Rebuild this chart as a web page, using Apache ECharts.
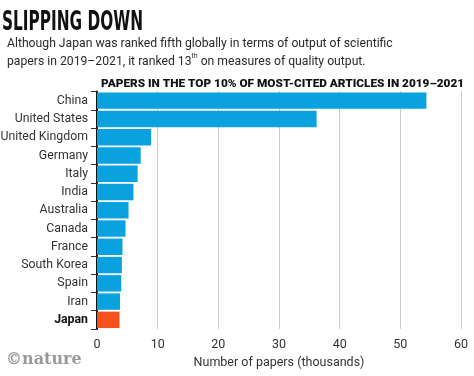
<!DOCTYPE html>
<html>
<head>
<meta charset="utf-8">
<script src="https://cdn.jsdelivr.net/npm/echarts@6/dist/echarts.min.js"></script>
<style>
  html, body { margin: 0; padding: 0; background: #fff; }
  #chart { width: 474px; height: 376px; }
</style>
</head>
<body>
<div id="chart"></div>
<script>
const countries = ["China", "United States", "United Kingdom", "Germany", "Italy", "India",
  "Australia", "Canada", "France", "South Korea", "Spain", "Iran", "Japan"];
const papers = [54.3, 36.2, 8.9, 7.2, 6.7, 6.0, 5.2, 4.7, 4.2, 4.1, 4.0, 3.8, 3.7];
const highlight = "Japan";
const xTicks = [0, 10, 20, 30, 40, 50, 60];

const chart = echarts.init(document.getElementById("chart"));

const textColor = "#333";
const font = "Roboto, 'Noto Sans', sans-serif";

chart.setOption({
  animation: false,
  graphic: [
    {
      // condensed headline: squeeze a bold face horizontally
      type: "text",
      left: 2, top: 10,
      scaleX: 0.59,
      style: {
        text: "SLIPPING DOWN",
        fontFamily: "'DejaVu Sans', sans-serif",
        fontWeight: "bold", fontSize: 26, fill: "#111"
      }
    }
  ],
  title: [
    {
      text: "{t|Although Japan was ranked fifth globally in terms of output of scientific}\n" +
            "{t|papers in 2019–2021, it ranked 13}{s|th}{t| on measures of quality output.}",
      left: 2, top: 30,
      textStyle: {
        fontWeight: "normal",
        rich: {
          t: { fontFamily: font, fontWeight: "normal", fontSize: 12.2, color: "#2a2a2a", lineHeight: 18 },
          s: { fontFamily: font, fontWeight: "normal", fontSize: 7, color: "#2a2a2a", verticalAlign: "top",
            lineHeight: 18, padding: [0, 0, 6, 0] }
        }
      }
    },
    {
      text: "PAPERS IN THE TOP 10% OF MOST-CITED ARTICLES IN 2019–2021",
      left: 96, top: 73,
      textStyle: { fontFamily: font, fontWeight: 900, fontSize: 11.8, color: "#111" }
    },
    {
      text: "©nature",
      left: 1, top: 347,
      textStyle: { fontFamily: "'DejaVu Serif', 'Liberation Serif', serif", fontWeight: "bold",
        fontSize: 16, color: "#9a9a9a" }
    }
  ],
  grid: { left: 97, right: 13, top: 91.5, bottom: 47, outerBoundsMode: "none" },
  xAxis: {
    type: "value",
    min: xTicks[0], max: xTicks[xTicks.length - 1], interval: 10,
    axisLine: { show: false },
    axisTick: { show: false },
    axisLabel: { color: textColor, fontFamily: font, fontSize: 12.5, margin: 9 },
    splitLine: { show: true, lineStyle: { type: "dotted", color: "#999", width: 1 } },
    name: "Number of papers (thousands)",
    nameLocation: "middle",
    nameGap: 27,
    nameTextStyle: { color: textColor, fontFamily: font, fontSize: 12.5 }
  },
  yAxis: {
    type: "category",
    inverse: true,
    data: countries,
    axisLine: { show: true, lineStyle: { color: "#111", width: 2 } },
    axisTick: { show: true, length: 6, lineStyle: { color: "#333" } },
    axisLabel: {
      color: textColor, fontFamily: font, fontSize: 12.3, margin: 9,
      formatter: v => v === highlight ? "{b|" + v + "}" : v,
      rich: { b: { fontWeight: "bold", color: "#111", fontFamily: font, fontSize: 12.3 } }
    },
    splitLine: { show: false }
  },
  series: [{
    type: "bar",
    data: papers.map((v, i) => ({
      value: v,
      itemStyle: { color: countries[i] === highlight ? "#f4511e" : "#0aa2de" }
    })),
    barCategoryGap: "10%",
    z: 3
  }]
});
</script>
</body>
</html>
